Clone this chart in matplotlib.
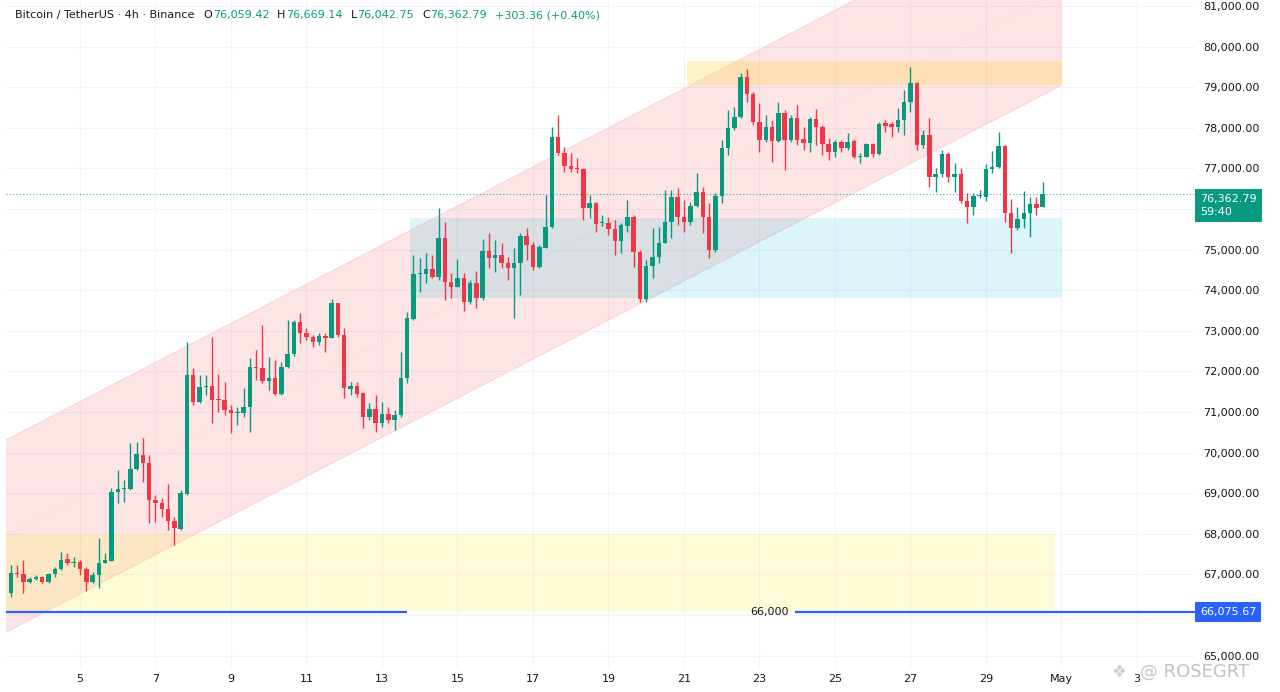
import matplotlib
matplotlib.use('Agg')
import matplotlib.pyplot as plt
from matplotlib.patches import Rectangle, Polygon
from matplotlib.transforms import blended_transform_factory
import numpy as np

# ---------------- data (BTC/USDT 4h, Apr 3 04:00 -> Apr 30 12:00) ----------------
opens = [66540, 67030, 67010, 66810, 66890, 66940, 66810, 67010, 67130, 67380,
         67280, 67300, 67130, 66810, 66990, 67280, 67330, 69030, 69100, 69100,
         69600, 69950, 69740, 68830, 68760, 68610, 68320, 68120, 68980, 71910,
         71250, 71620, 71640, 71300, 71300, 71050, 70970, 70970, 71120, 72110,
         72090, 71770, 71840, 71440, 72110, 72430, 73220, 72950, 72850, 72730,
         72870, 72820, 73680, 72900, 71560, 71640, 71460, 70880, 71080, 70730,
         70950, 70800, 70930, 71840, 73290, 74400, 74400, 74520, 74330, 75290,
         74200, 74080, 74300, 73710, 74180, 73810, 74970, 74790, 74870, 74670,
         74550, 74670, 75330, 75110, 74570, 75040, 75560, 77770, 77380, 77060,
         76990, 76990, 76030, 76150, 75650, 75660, 75510, 75210, 75580, 75800,
         74940, 73780, 74600, 74820, 75160, 75680, 76300, 75800, 75680, 76080,
         76420, 75800, 74990, 76320, 77500, 77990, 78270, 79250, 78830, 78140,
         77700, 78020, 77680, 78360, 77700, 78240, 77720, 77630, 78220, 78020,
         77600, 77400, 77650, 77500, 77680, 77280, 77280, 77600, 77350, 78110,
         78090, 78020, 78190, 78640, 79100, 77580, 77830, 76790, 76860, 77350,
         76790, 76860, 76200, 76050, 76320, 76300, 76990, 77040, 77550, 75900,
         75530, 75750, 75900, 76120, 76059.42]
highs = [67230, 67230, 67360, 66940, 66990, 66960, 67030, 67180, 67550, 67530,
         67430, 67360, 67180, 67060, 67900, 67530, 69130, 69570, 69330, 70240,
         70260, 70360, 69940, 68960, 68880, 69230, 68410, 69080, 72720, 72080,
         71910, 71910, 72850, 71940, 71740, 71170, 71120, 71590, 72330, 72530,
         73140, 72360, 72280, 72230, 73270, 73270, 73440, 73070, 72900, 72950,
         72950, 73780, 73690, 73070, 71740, 71740, 71490, 71220, 71420, 71250,
         71120, 71050, 72480, 73460, 74870, 74790, 74920, 74870, 76020, 75680,
         74420, 74770, 74420, 74250, 74470, 75260, 75410, 75240, 75160, 74820,
         75040, 75410, 75530, 75190, 75110, 76340, 78020, 78320, 77530, 77380,
         77260, 77010, 76350, 76170, 75850, 75800, 75730, 75660, 76220, 75850,
         74990, 74740, 75530, 75560, 76470, 76470, 76520, 76220, 76170, 76890,
         76540, 76150, 76390, 77700, 78440, 78510, 79350, 79450, 78880, 78610,
         78320, 78190, 78640, 78440, 78320, 78560, 78020, 78270, 78460, 78070,
         77750, 77700, 77700, 77870, 77720, 77380, 77630, 77630, 78140, 78190,
         78140, 78490, 78930, 79500, 79130, 77950, 78240, 77010, 77450, 77400,
         77130, 77010, 76390, 76390, 76470, 77110, 77430, 77900, 77580, 76250,
         76050, 76440, 76300, 76300, 76669.14]
lows = [66440, 66940, 66540, 66790, 66860, 66790, 66790, 66940, 67110, 67230,
        67180, 66990, 66590, 66790, 66660, 67280, 67330, 68760, 68780, 69080,
        69570, 69280, 68270, 68290, 68410, 68090, 67730, 68090, 68960, 71170,
        71220, 71420, 70730, 71000, 70930, 70480, 70680, 70880, 70510, 71790,
        71710, 71540, 71420, 71420, 72080, 72380, 72700, 72770, 72600, 72650,
        72480, 72820, 72850, 71350, 71420, 71370, 70610, 70800, 70510, 70630,
        70730, 70560, 70880, 71710, 73270, 73960, 74180, 74300, 74250, 73760,
        73810, 74080, 73490, 73660, 73560, 73760, 74550, 74450, 74550, 74250,
        73320, 73880, 74740, 74500, 74550, 75040, 75530, 77330, 76910, 76910,
        76890, 75730, 75780, 75430, 75580, 75360, 74870, 74920, 75430, 74570,
        73710, 73710, 74300, 74670, 75160, 75290, 75610, 75430, 75610, 76050,
        75410, 74790, 74940, 76150, 77330, 77950, 78240, 78640, 78070, 77400,
        77650, 77160, 77650, 76960, 77650, 77580, 77450, 77400, 77580, 77330,
        77210, 77280, 77400, 77450, 77260, 77130, 77280, 77280, 77330, 77900,
        77770, 77900, 77820, 78390, 77450, 77500, 76540, 76420, 76790, 76660,
        76420, 76150, 75660, 75850, 76270, 76200, 76890, 77010, 75680, 74920,
        75480, 75530, 75310, 75850, 76042.75]
closes = [67030, 67000, 66810, 66890, 66940, 66810, 67010, 67130, 67355, 67280,
          67300, 67130, 66810, 66990, 67280, 67355, 69030, 69100, 69110, 69600,
          69970, 69740, 68830, 68760, 68610, 68320, 68140, 69010, 71910, 71250,
          71620, 71640, 71300, 71290, 71050, 70970, 70980, 71120, 72110, 72090,
          71770, 71840, 71440, 72110, 72430, 73220, 72950, 72850, 72730, 72870,
          72820, 73680, 72900, 71590, 71640, 71440, 70880, 71080, 70730, 70950,
          70800, 70930, 71840, 73320, 74400, 74430, 74520, 74330, 75290, 74200,
          74080, 74300, 73710, 74180, 73810, 74970, 74790, 74870, 74670, 74550,
          74670, 75330, 75110, 74570, 75060, 75560, 77770, 77380, 77060, 76990,
          76980, 76030, 76150, 75630, 75660, 75510, 75210, 75610, 75800, 74940,
          73780, 74600, 74820, 75160, 75680, 76300, 75800, 75680, 76080, 76420,
          75800, 74990, 76320, 77500, 77990, 78270, 79250, 78830, 78140, 77700,
          78020, 77680, 78360, 77700, 78240, 77700, 77630, 78220, 78020, 77600,
          77400, 77650, 77500, 77650, 77280, 77290, 77600, 77350, 78100, 78040,
          78020, 78190, 78640, 79100, 77580, 77830, 76790, 76860, 77350, 76790,
          76860, 76200, 76050, 76320, 76350, 76990, 77040, 77550, 75900, 75530,
          75750, 75900, 76120, 76030, 76362.79]

first_candle_day = 3 + 4 / 24      # Apr 3, 04:00
candle_step = 4 / 24               # 4h candles

x_tick_days = [5, 7, 9, 11, 13, 15, 17, 19, 21, 23, 25, 27, 29, 31, 33]
x_tick_labels = ['5', '7', '9', '11', '13', '15', '17', '19', '21', '23', '25', '27', '29', 'May', '3']
y_ticks = list(range(65000, 81001, 1000))
hidden_y_labels = [66000, 76000]   # covered by the price tags in the reference

# drawings
channel_days = [3.04, 31.01]
channel_lower = [65580, 79054]
channel_upper = [70310, 83784]
yellow_zone = (3.04, 30.83, 66100, 68000)      # day0, day1, p0, p1
top_zone = (21.08, 31.01, 79050, 79650)
blue_zone = (13.74, 31.01, 73810, 75780)
level_price = 66075.67
level_segments = [(3.04, 13.66), (23.94, 34.6)]
last_price = 76362.79
header = "Bitcoin / TetherUS \u00b7 4h \u00b7 Binance"
ohlc_text = [("O", "76,059.42"), ("H", "76,669.14"), ("L", "76,042.75"), ("C", "76,362.79")]
change_text = "+303.36 (+0.40%)"

# ---------------- styling ----------------
UP = '#089981'
DOWN = '#f23645'
TXT = '#131722'
GRID = '#f0f3fa'
plt.rcParams['font.family'] = ['DejaVu Sans']

W, H = 1280, 692
fig = plt.figure(figsize=(W / 100, H / 100), dpi=100)
ax = fig.add_axes([6 / W, 24 / H, 1189 / W, 668 / H])
ax.set_xlim(3.04, 34.537)
ax.set_ylim(64695, 81148)

for s in ax.spines.values():
    s.set_visible(False)

ax.set_xticks(x_tick_days)
ax.set_xticklabels(x_tick_labels)
ax.set_yticks(y_ticks)
ax.set_yticklabels(['' if v in hidden_y_labels else f"{v:,.2f}" for v in y_ticks])
ax.yaxis.tick_right()
ax.tick_params(axis='both', length=0, labelsize=8, colors=TXT)
ax.tick_params(axis='y', pad=6)
ax.tick_params(axis='x', pad=4)
ax.grid(True, color=GRID, lw=0.8, zorder=0)
ax.set_axisbelow(True)

# channel
poly = Polygon([(channel_days[0], channel_lower[0]), (channel_days[1], channel_lower[1]),
                (channel_days[1], channel_upper[1]), (channel_days[0], channel_upper[0])],
               closed=True, facecolor=(242/255, 54/255, 69/255, 0.13), edgecolor='none', zorder=1)
ax.add_patch(poly)
ax.plot(channel_days, channel_lower, color='#fbd3d9', lw=0.8, zorder=1.2)
ax.plot(channel_days, channel_upper, color='#fbd3d9', lw=0.8, zorder=1.2)
mid = [(a + b) / 2 for a, b in zip(channel_lower, channel_upper)]
ax.plot(channel_days, mid, color='#fad6db', lw=0.8, ls=(0, (2, 2)), zorder=1.2)

# zones
def zone(z, color):
    d0, d1, p0, p1 = z
    ax.add_patch(Rectangle((d0, p0), d1 - d0, p1 - p0, facecolor=color, edgecolor='none', zorder=1.5))

zone(yellow_zone, (255/255, 235/255, 59/255, 0.2))
zone(top_zone, (255/255, 214/255, 60/255, 0.3))
zone(blue_zone, (0/255, 188/255, 212/255, 0.14))

# level line
for d0, d1 in level_segments:
    ax.plot([d0, d1], [level_price, level_price], color='#2962ff', lw=1.6, zorder=3, solid_capstyle='butt')
ax.text(23.78, level_price, "66,000", ha='right', va='center', fontsize=8, color=TXT, zorder=3)

# current price dotted line
ax.axhline(last_price, color=UP, lw=0.8, ls=(0, (1, 2)), zorder=2, alpha=0.8)

# candles
n = len(closes)
t = first_candle_day + np.arange(n) * candle_step
o = np.array(opens); c = np.array(closes); hi = np.array(highs); lo = np.array(lows)
cols = np.where(c >= o, UP, DOWN)
ax.vlines(t, lo, hi, colors=cols, lw=1, zorder=4)
bottoms = np.minimum(o, c)
heights = np.maximum(np.abs(c - o), 25)
ax.bar(t, heights, bottom=bottoms, width=0.118, color=cols, edgecolor='none', zorder=5)

# right-axis labels
tr = blended_transform_factory(ax.transAxes, ax.transData)
ax.text(1.0 + 5 / 1189, last_price, "76,362.79\n59:40", transform=tr, ha='left', va='top',
        fontsize=8, color='white', linespacing=1.35, clip_on=False, zorder=10,
        bbox=dict(boxstyle='square,pad=0.45', fc=UP, ec='none'))
ax.text(1.0 + 5 / 1189, level_price, "66,075.67", transform=tr, ha='left', va='center',
        fontsize=8, color='white', clip_on=False, zorder=10,
        bbox=dict(boxstyle='square,pad=0.45', fc='#2962ff', ec='none'))

# header text
fig.canvas.draw()
renderer = fig.canvas.get_renderer()
ypos = 1 - 15 / H
xpix = 15
def put(s, color, gap_after=0):
    global xpix
    tt = fig.text(xpix / W, ypos, s, fontsize=8, color=color, va='center', ha='left')
    bb = tt.get_window_extent(renderer=renderer)
    xpix = bb.x1 + gap_after
put(header, TXT, 9)
for letter, val in ohlc_text:
    put(letter, TXT, 0.5)
    put(val, UP, 8)
put(change_text, UP, 0)

# watermark
fig.text(1112 / W, 1 - 672 / H, "\u2756", fontsize=12, color='#cfcfcf', va='center', ha='left')
fig.text(1140 / W, 1 - 672 / H, "@ ROSEGRT", fontsize=13, color='#c2c2c2', va='center', ha='left')

fig.savefig('out.png', dpi=100)
